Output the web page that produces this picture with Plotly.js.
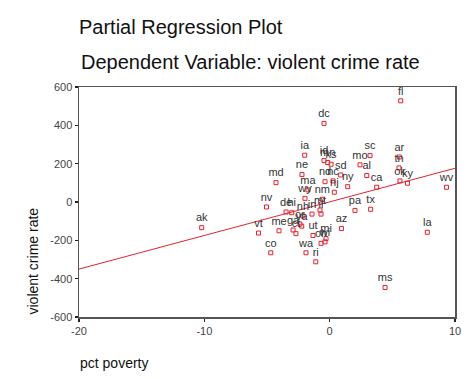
<!DOCTYPE html>
<html>
<head>
<meta charset="utf-8">
<script src="https://cdn.plot.ly/plotly-3.0.1.min.js"></script>
<style>html,body{margin:0;padding:0;background:#fff;}#chart{width:474px;height:379px;}</style>
</head>
<body>
<div id="chart"></div>
<script>
// State labels (partial regression plot points)
const states = ["fl","dc","ia","id","mn","ks","sd","sc","mo","al","ar","tn","ok","ky","wv","ca","ny","nj","nc","nd","md","ne","ma","wy","nm","mt","de","hi","nh","in","il","or","me","ga","ct","ut","mi","oh","wi","wa","ri","az","pa","tx","la","ms","vt","nv","ak","co","va"];
// pct poverty (residual)
const povertyResid = [5.67,-0.45,-1.99,-0.45,-0.16,0.11,0.88,3.22,2.42,2.96,5.56,5.53,5.61,6.21,9.32,3.75,1.44,0.37,0.27,-0.37,-4.28,-2.21,-1.73,-1.97,-0.59,-0.77,-3.48,-3.03,-2.13,-1.41,-0.69,-2.37,-4.04,-2.92,-2.69,-1.33,-0.29,-0.69,-0.37,-1.89,-1.11,0.94,2.02,3.27,7.79,4.42,-5.68,-5.04,-10.21,-4.70,-2.23];
// violent crime rate (residual)
const crimeResid = [528,410,244,216,206,197,141,242,194,138,235,178,110,98,77,77,80,51,110,106,101,143,63,19,14,-42,-52,-56,-73,-63,-63,-115,-150,-146,-165,-175,-191,-216,-208,-265,-312,-138,-44,-38,-158,-446,-162,-26,-134,-265,-126];
// fit line endpoints
const fitX = [-20, 10];
const fitY = [-350, 176];
// ticks
const xTickVals = [-20, -10, 0, 10];
const xTickText = ["-20", "-10", "0", "10"];
const yTickVals = [-600, -400, -200, 0, 200, 400, 600];
const yTickText = ["-600", "-400", "-200", "0", "200", "400", "600"];

const red = "#e8202e";
const traces = [
  {
    x: fitX, y: fitY, type: "scatter", mode: "lines",
    line: {color: red, width: 1}, hoverinfo: "skip"
  },
  {
    x: povertyResid, y: crimeResid, text: states, type: "scatter", mode: "markers+text",
    textposition: "top center",
    textfont: {family: "Arial, Liberation Sans, sans-serif", size: 11, color: "#333"},
    marker: {symbol: "square-open", size: 4, color: red, line: {color: red, width: 1}}
  }
];
const axisFont = {family: "Arial, Liberation Sans, sans-serif", size: 11, color: "#444"};
const layout = {
  width: 474, height: 379,
  margin: {l: 79, r: 19, t: 87, b: 62, pad: 0},
  paper_bgcolor: "#fff", plot_bgcolor: "#fff",
  showlegend: false,
  font: {family: "Arial, Liberation Sans, sans-serif", color: "#222"},
  title: {
    text: "Partial Regression Plot",
    font: {family: "Arial, Liberation Sans, sans-serif", size: 20, color: "#111"},
    xref: "container", yref: "container", x: 79/474, xanchor: "left",
    y: 1 - 27/379, yanchor: "middle"
  },
  xaxis: {
    range: [-20, 10], tickvals: xTickVals, ticktext: xTickText,
    showgrid: false, zeroline: false, showline: true, mirror: true,
    linecolor: "#555", linewidth: 1.5, ticks: "outside", ticklen: 3, tickwidth: 1.5, tickcolor: "#222",
    tickfont: axisFont, fixedrange: true
  },
  yaxis: {
    range: [-600, 600], tickvals: yTickVals, ticktext: yTickText,
    showgrid: false, zeroline: false, showline: true, mirror: true,
    linecolor: "#555", linewidth: 1.5, ticks: "outside", ticklen: 3, tickwidth: 1.5, tickcolor: "#222",
    tickfont: axisFont, fixedrange: true
  },
  annotations: [
    {
      text: "Dependent Variable: violent crime rate", showarrow: false,
      xref: "paper", yref: "paper", x: 0, xanchor: "left", y: 1 + (87 - 61.5)/230, yanchor: "middle",
      font: {family: "Arial, Liberation Sans, sans-serif", size: 20, color: "#111"}
    },
    {
      text: "violent crime rate", showarrow: false, textangle: -90,
      xref: "paper", yref: "paper", x: (32 - 79)/376, xanchor: "center", y: 0, yanchor: "bottom",
      font: {family: "Arial, Liberation Sans, sans-serif", size: 14, color: "#111"}
    },
    {
      text: "pct poverty", showarrow: false,
      xref: "paper", yref: "paper", x: -0.003, xanchor: "left", y: (317 - 363)/230, yanchor: "middle",
      font: {family: "Arial, Liberation Sans, sans-serif", size: 14, color: "#111"}
    }
  ]
};
Plotly.newPlot("chart", traces, layout, {displayModeBar: false, staticPlot: true});
</script>
</body>
</html>
